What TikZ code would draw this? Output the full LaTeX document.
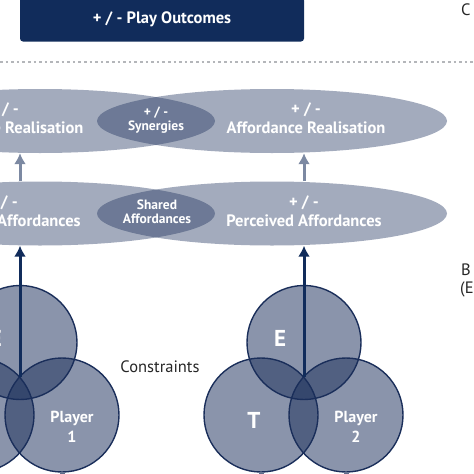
\documentclass[tikz,border=0pt]{standalone}
\usepackage{fontspec}
\setsansfont{PT Sans}
\usepackage{tikz}
\usetikzlibrary{shapes,arrows,arrows.meta,positioning,calc}
\definecolor{navy}{HTML}{112C5B}
\definecolor{venn}{HTML}{1A2E5A}
\definecolor{dotgray}{HTML}{B4B6BA}
\definecolor{arrowgray}{HTML}{7C89A2}
\tikzset{
outcome/.style = {fill=navy, rectangle, rounded corners=3pt, minimum width=284pt, minimum height=44pt, text=white, font=\sffamily\bfseries\fontsize{16.5}{18}\selectfont},
afford/.style = {ellipse, fill=venn, fill opacity=0.4, minimum width=350pt, minimum height=64pt, inner sep=0pt},
ltext/.style = {align=center, text=white, inner sep=0pt, font=\sffamily\bfseries\fontsize{16.5}{19.5}\selectfont},
stext/.style = {align=center, text=white, inner sep=0pt, font=\sffamily\bfseries\fontsize{13.5}{14.5}\selectfont},
ring/.style = {circle, draw=venn, line width=1.4pt, fill=venn, fill opacity=0.51, minimum size=114pt, inner sep=0pt},
rtext/.style = {align=center, text=white, inner sep=0pt, font=\sffamily\bfseries\fontsize{16}{20}\selectfont},
big/.style = {text=white, inner sep=0pt, font=\sffamily\bfseries\fontsize{23}{24}\selectfont},
side/.style = {text=black!85, inner sep=0pt, font=\sffamily\fontsize{16.5}{18}\selectfont},
dotline/.style = {dotgray, line width=2.6pt, dash pattern=on 2.6pt off 3pt},
uparrow/.style = {navy, line width=3pt},
greyarrow/.style = {arrowgray, line width=3pt},
stub/.style = {venn!70, line width=5pt},
}
\begin{document}
\begin{tikzpicture}[x=1pt, y=-1pt, >={Latex[length=11pt,width=12pt]}]
\useasboundingbox (0,0) rectangle (474,474);
% outcome box and separator
\node [outcome] (play) at (162,19.5) {+ / - Play Outcomes};
\coordinate (sepl) at (0,62);
\coordinate (sepr) at (474,62);
\draw [dotline] (sepl) -- (sepr);
% affordance ellipses
\node [afford] (real1) at (40,121) {};
\node [afford] (real2) at (272,121) {};
\node [afford] (perc1) at (40,213.5) {};
\node [afford] (perc2) at (272,213.5) {};
\node [ltext] (treal1) at (4,118) {+ / -\\Affordance Realisation};
\node [ltext] (treal2) at (306,118) {+ / -\\Affordance Realisation};
\node [stext] (syn) at (156,120) {+ / -\\Synergies};
\node [ltext] (tperc1) at (3,211) {+ / -\\Perceived Affordances};
\node [ltext] (tperc2) at (304,211) {+ / -\\Perceived Affordances};
\node [stext] (shared) at (157,212) {Shared\\Affordances};
% constraint circles
\foreach \x/\p in {20/1,304/2} {
  \node [ring] (e\p) at (\x,342.5) {};
  \node [ring] (t\p) at (\x-43,415) {};
  \node [ring] (pl\p) at (\x+42,415) {};
  \coordinate (base\p) at (\x,377);
  \draw [stub] (t\p.south) -- ++(0,8);
  \draw [stub] (pl\p.south) -- ++(0,8);
  \draw [uparrow,->] (base\p) -- (base\p |- perc\p.south);
  \draw [greyarrow,->] (base\p |- perc\p.north) -- (base\p |- real\p.south);
}
\node [big] (le1) at ($(e1)+(-24,-4)$) {E};
\node [rtext] (lpl1) at ($(pl1)+(10,12)$) {Player\\1};
\node [big] (le2) at ($(e2)+(-24,-4)$) {E};
\node [big] (lt2) at ($(t2)+(-7,5)$) {T};
\node [rtext] (lpl2) at ($(pl2)+(10,12)$) {Player\\2};
\node [side] (cons) at (160,367) {Constraints};
% cut off labels at the right edge
\node [side, anchor=west] (cut1) at (461,10) {C};
\node [side, anchor=west] (cut2) at (461,270) {B};
\node [side, anchor=west] (cut3) at (460,289) {(E};
\end{tikzpicture}
\end{document}
